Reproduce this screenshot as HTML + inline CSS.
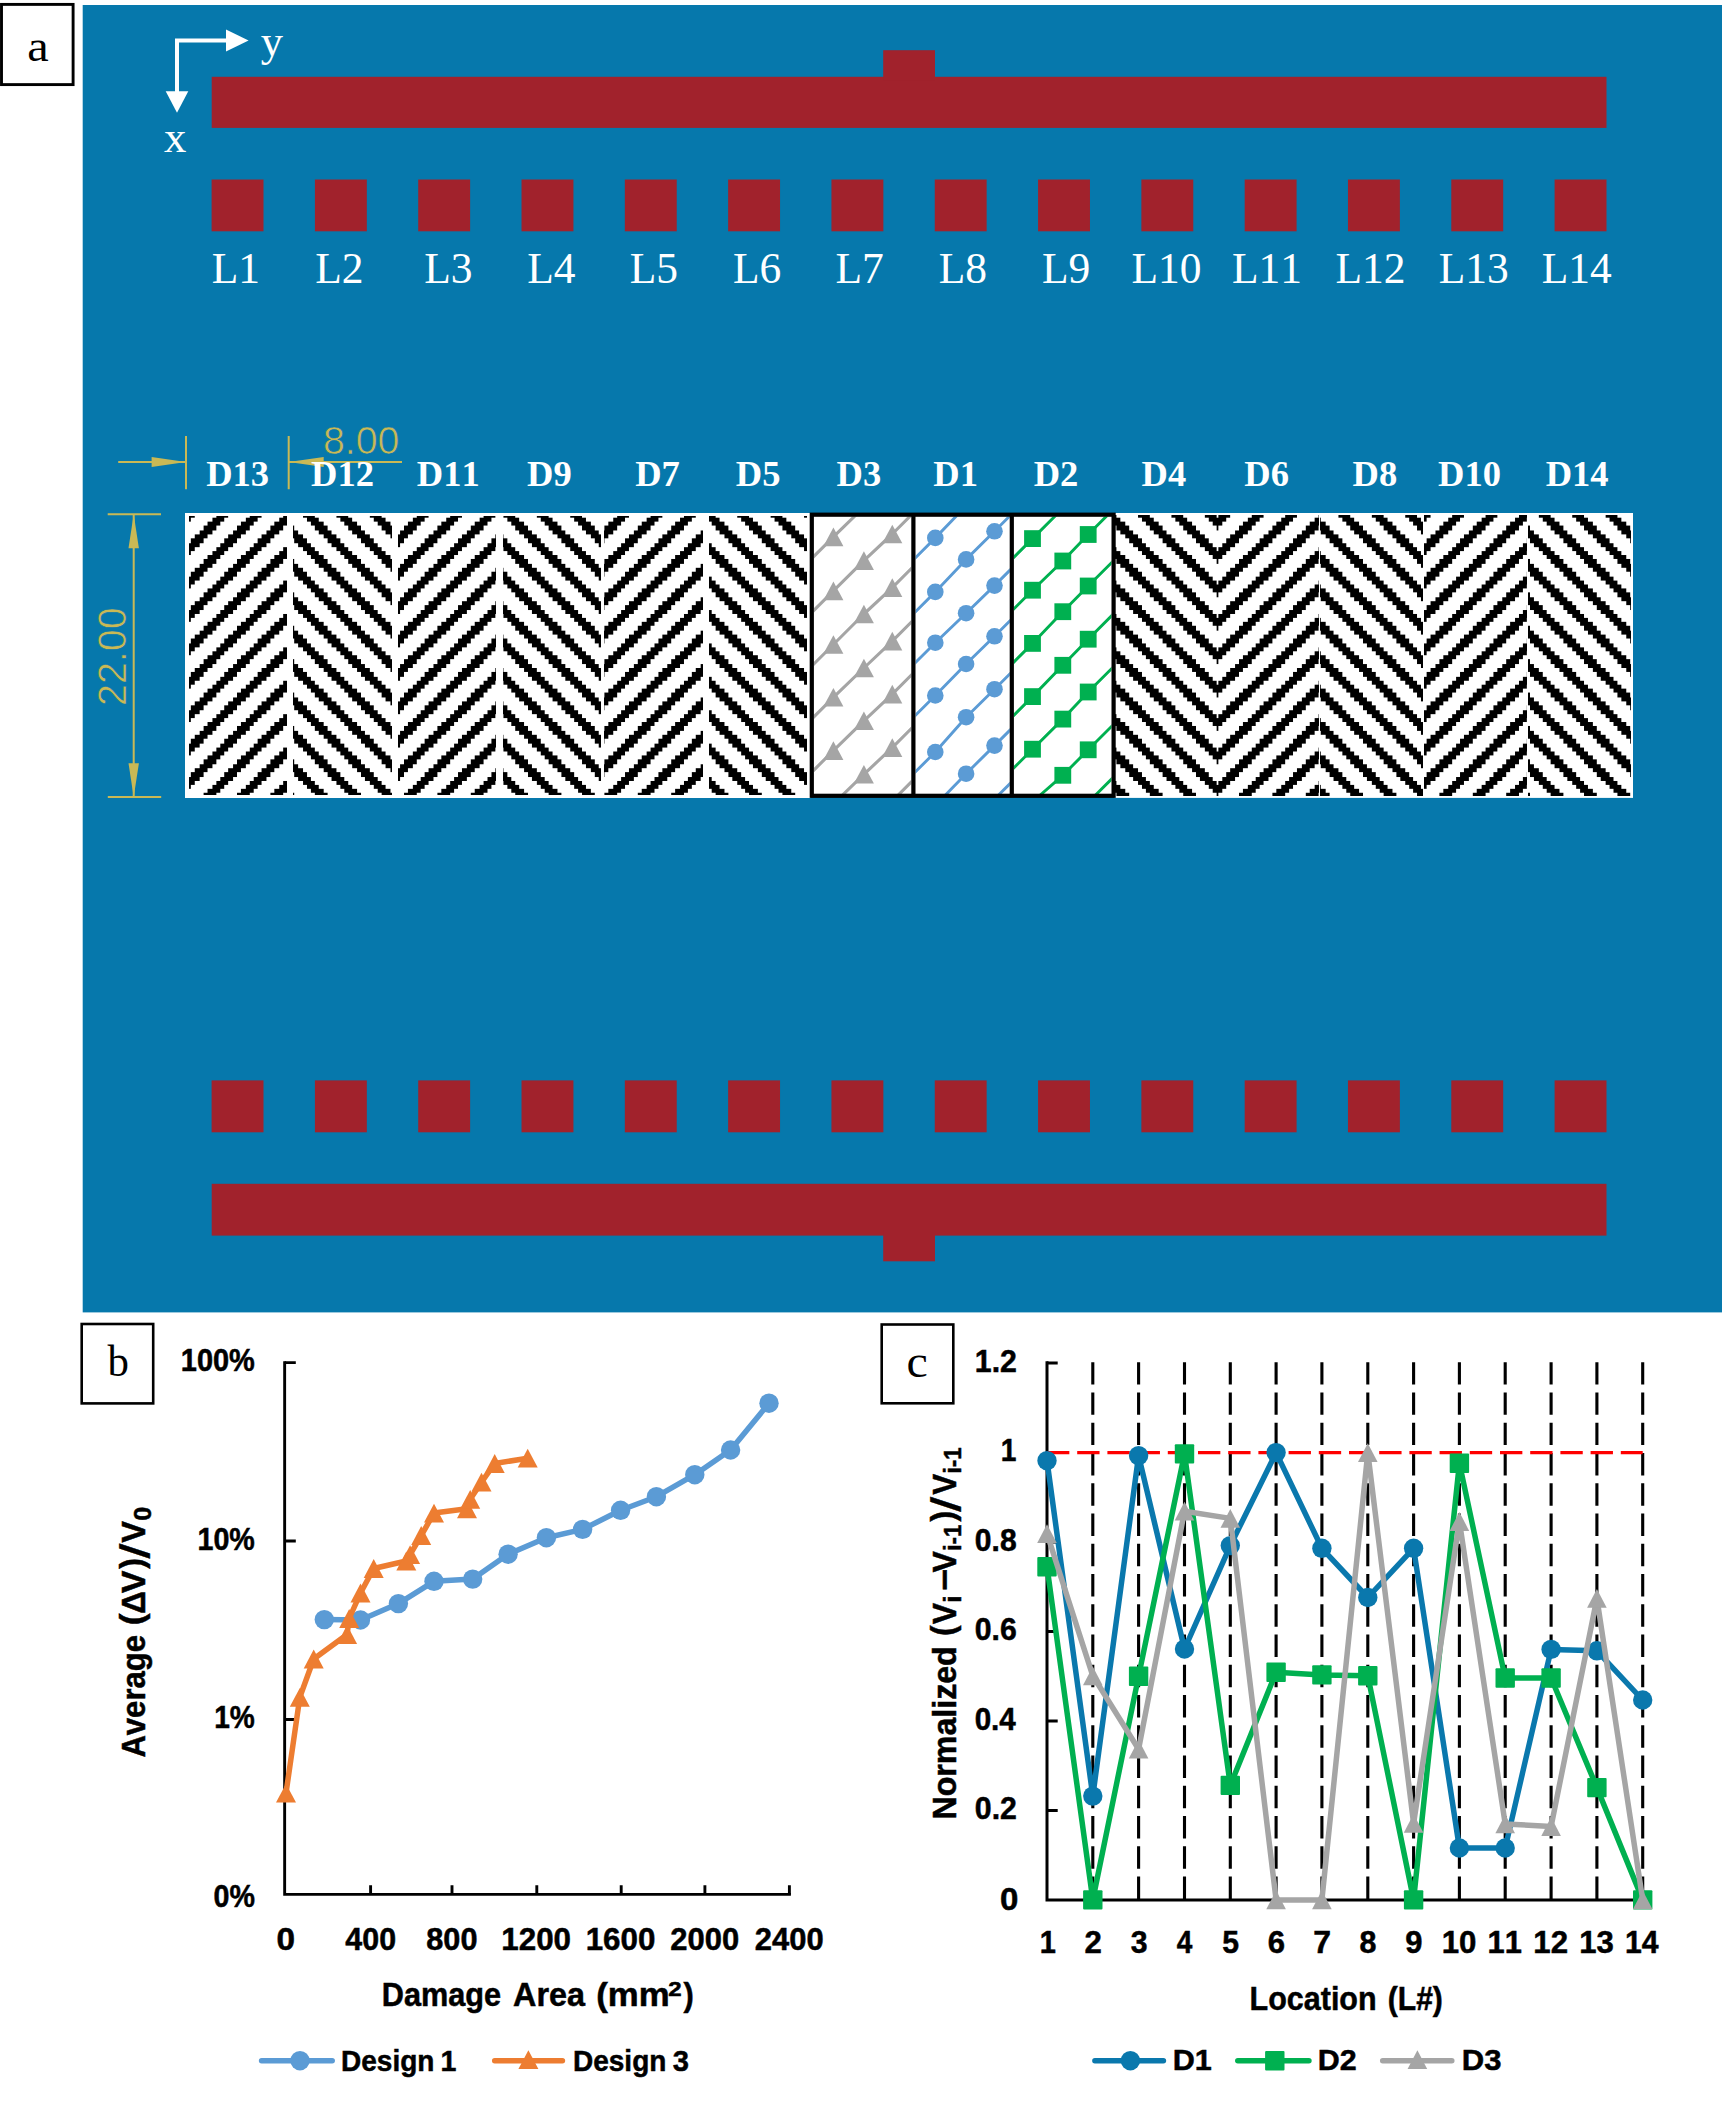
<!DOCTYPE html>
<html><head><meta charset="utf-8"><title>Figure</title>
<style>
html,body{margin:0;padding:0;background:#fff;}
svg{display:block;}
text{font-kerning:none;}
.ser{font-family:"Liberation Serif",serif;}
.san{font-family:"Liberation Sans",sans-serif;}
.b{font-weight:bold;}
.san.b{stroke:#000;stroke-width:0.5px;}
</style></head><body>
<svg width="1725" height="2113" viewBox="0 0 1725 2113">
<defs>
<pattern id="up" patternUnits="userSpaceOnUse" x="3.2" y="0" width="33.4" height="33.4">
<rect width="33.4" height="33.4" fill="#fff"/>
<path d="M0.000 0.000h4.175v4.175h-4.175zM25.050 0.000h4.175v4.175h-4.175zM29.225 0.000h4.175v4.175h-4.175zM20.875 4.175h4.175v4.175h-4.175zM25.050 4.175h4.175v4.175h-4.175zM29.225 4.175h4.175v4.175h-4.175zM16.700 8.350h4.175v4.175h-4.175zM20.875 8.350h4.175v4.175h-4.175zM25.050 8.350h4.175v4.175h-4.175zM12.525 12.525h4.175v4.175h-4.175zM16.700 12.525h4.175v4.175h-4.175zM20.875 12.525h4.175v4.175h-4.175zM8.350 16.700h4.175v4.175h-4.175zM12.525 16.700h4.175v4.175h-4.175zM16.700 16.700h4.175v4.175h-4.175zM4.175 20.875h4.175v4.175h-4.175zM8.350 20.875h4.175v4.175h-4.175zM12.525 20.875h4.175v4.175h-4.175zM0.000 25.050h4.175v4.175h-4.175zM4.175 25.050h4.175v4.175h-4.175zM8.350 25.050h4.175v4.175h-4.175zM0.000 29.225h4.175v4.175h-4.175zM4.175 29.225h4.175v4.175h-4.175zM29.225 29.225h4.175v4.175h-4.175z" fill="#000" shape-rendering="crispEdges"/>
</pattern>
<pattern id="dn" patternUnits="userSpaceOnUse" x="27" y="0" width="33.4" height="33.4">
<rect width="33.4" height="33.4" fill="#fff"/>
<path d="M0.000 0.000h4.175v4.175h-4.175zM4.175 0.000h4.175v4.175h-4.175zM29.225 0.000h4.175v4.175h-4.175zM0.000 4.175h4.175v4.175h-4.175zM4.175 4.175h4.175v4.175h-4.175zM8.350 4.175h4.175v4.175h-4.175zM4.175 8.350h4.175v4.175h-4.175zM8.350 8.350h4.175v4.175h-4.175zM12.525 8.350h4.175v4.175h-4.175zM8.350 12.525h4.175v4.175h-4.175zM12.525 12.525h4.175v4.175h-4.175zM16.700 12.525h4.175v4.175h-4.175zM12.525 16.700h4.175v4.175h-4.175zM16.700 16.700h4.175v4.175h-4.175zM20.875 16.700h4.175v4.175h-4.175zM16.700 20.875h4.175v4.175h-4.175zM20.875 20.875h4.175v4.175h-4.175zM25.050 20.875h4.175v4.175h-4.175zM20.875 25.050h4.175v4.175h-4.175zM25.050 25.050h4.175v4.175h-4.175zM29.225 25.050h4.175v4.175h-4.175zM0.000 29.225h4.175v4.175h-4.175zM25.050 29.225h4.175v4.175h-4.175zM29.225 29.225h4.175v4.175h-4.175z" fill="#000" shape-rendering="crispEdges"/>
</pattern>
<clipPath id="cD3"><rect x="814" y="516.6" width="97.2" height="277.3"/></clipPath>
<clipPath id="cD1"><rect x="915.6" y="516.6" width="94.2" height="277.3"/></clipPath>
<clipPath id="cD2"><rect x="1013.9" y="516.6" width="97.6" height="277.3"/></clipPath>
</defs>
<rect width="1725" height="2113" fill="#fff"/>
<rect x="82.7" y="5" width="1639.3" height="1307.4" fill="#0678ac"/>
<rect x="1.5" y="4.4" width="71.6" height="80.2" fill="#fff" stroke="#000" stroke-width="2.9"/>
<text class="ser" transform="translate(27.30,60.80) scale(1.0745,1)" font-size="45">a</text>
<g fill="#fff" stroke="none"><path d="M175 38.6H227V42.6H179V92H175Z"/><path d="M226 29.6L248.6 40.6L226 51.6Z"/><path d="M165.7 91.3H188.3L177 112.8Z"/></g>
<text class="ser" transform="translate(260.76,56.10) scale(0.9918,1)" font-size="44.8" fill="#fff">y</text>
<text class="ser" transform="translate(164.11,151.60) scale(0.9862,1)" font-size="45.3" fill="#fff">x</text>
<g fill="#a1222c">
<rect x="211.7" y="76.8" width="1394.8" height="51.1"/><rect x="883.2" y="50.2" width="51.8" height="30"/>
<rect x="211.7" y="1183.8" width="1394.8" height="51.8"/><rect x="883.2" y="1230" width="51.8" height="31.3"/>
<rect x="211.60" y="179.5" width="51.9" height="51.8"/><rect x="211.60" y="1080.4" width="51.9" height="51.9"/>
<rect x="314.91" y="179.5" width="51.9" height="51.8"/><rect x="314.91" y="1080.4" width="51.9" height="51.9"/>
<rect x="418.22" y="179.5" width="51.9" height="51.8"/><rect x="418.22" y="1080.4" width="51.9" height="51.9"/>
<rect x="521.52" y="179.5" width="51.9" height="51.8"/><rect x="521.52" y="1080.4" width="51.9" height="51.9"/>
<rect x="624.83" y="179.5" width="51.9" height="51.8"/><rect x="624.83" y="1080.4" width="51.9" height="51.9"/>
<rect x="728.14" y="179.5" width="51.9" height="51.8"/><rect x="728.14" y="1080.4" width="51.9" height="51.9"/>
<rect x="831.45" y="179.5" width="51.9" height="51.8"/><rect x="831.45" y="1080.4" width="51.9" height="51.9"/>
<rect x="934.75" y="179.5" width="51.9" height="51.8"/><rect x="934.75" y="1080.4" width="51.9" height="51.9"/>
<rect x="1038.06" y="179.5" width="51.9" height="51.8"/><rect x="1038.06" y="1080.4" width="51.9" height="51.9"/>
<rect x="1141.37" y="179.5" width="51.9" height="51.8"/><rect x="1141.37" y="1080.4" width="51.9" height="51.9"/>
<rect x="1244.68" y="179.5" width="51.9" height="51.8"/><rect x="1244.68" y="1080.4" width="51.9" height="51.9"/>
<rect x="1347.98" y="179.5" width="51.9" height="51.8"/><rect x="1347.98" y="1080.4" width="51.9" height="51.9"/>
<rect x="1451.29" y="179.5" width="51.9" height="51.8"/><rect x="1451.29" y="1080.4" width="51.9" height="51.9"/>
<rect x="1554.60" y="179.5" width="51.9" height="51.8"/><rect x="1554.60" y="1080.4" width="51.9" height="51.9"/>
</g>
<text class="ser" transform="translate(211.75,282.90) scale(0.9600,1)" font-size="45.3" fill="#fff">L1</text>
<text class="ser" transform="translate(315.25,282.90) scale(0.9600,1)" font-size="45.3" fill="#fff">L2</text>
<text class="ser" transform="translate(424.25,282.90) scale(0.9600,1)" font-size="45.3" fill="#fff">L3</text>
<text class="ser" transform="translate(527.15,282.90) scale(0.9600,1)" font-size="45.3" fill="#fff">L4</text>
<text class="ser" transform="translate(629.75,282.90) scale(0.9600,1)" font-size="45.3" fill="#fff">L5</text>
<text class="ser" transform="translate(732.95,282.90) scale(0.9600,1)" font-size="45.3" fill="#fff">L6</text>
<text class="ser" transform="translate(835.55,282.90) scale(0.9600,1)" font-size="45.3" fill="#fff">L7</text>
<text class="ser" transform="translate(938.75,282.90) scale(0.9600,1)" font-size="45.3" fill="#fff">L8</text>
<text class="ser" transform="translate(1041.95,282.90) scale(0.9600,1)" font-size="45.3" fill="#fff">L9</text>
<text class="ser" transform="translate(1131.50,282.90) scale(0.9600,1)" font-size="45.3" fill="#fff">L10</text>
<text class="ser" transform="translate(1232.05,282.90) scale(0.9600,1)" font-size="45.3" fill="#fff">L11</text>
<text class="ser" transform="translate(1335.55,282.90) scale(0.9600,1)" font-size="45.3" fill="#fff">L12</text>
<text class="ser" transform="translate(1438.75,282.90) scale(0.9600,1)" font-size="45.3" fill="#fff">L13</text>
<text class="ser" transform="translate(1541.75,282.90) scale(0.9600,1)" font-size="45.3" fill="#fff">L14</text>
<g stroke="#c9b955" stroke-width="2" fill="none">
<path d="M186 435.9V489.3M288.7 435.9V489.3M118.2 462H186M288.7 462H402"/>
<path d="M107.7 514.2H161M107.8 797H161.2M133.7 514.2V797"/>
</g>
<g fill="#c9b955"><path d="M186 462L151.6 457V467Z"/><path d="M288.7 462L323.7 457V467Z"/><path d="M133.7 514.2L128.5 548.2H138.9Z"/><path d="M133.7 797L128.5 763.3H138.9Z"/></g>
<text class="san" transform="translate(322.89,453.90) scale(1.0047,1)" font-size="39.2" fill="#c9b955" stroke="#0678ac" stroke-width="0.7">8.00</text>
<text class="san" transform="translate(126.20,0) rotate(-90) translate(-705.98,0) scale(0.9602,1)" font-size="41" fill="#c9b955" stroke="#0678ac" stroke-width="0.7">22.00</text>
<text class="ser b" transform="translate(206.16,485.80) scale(0.9930,1)" font-size="36.8" fill="#fff">D13</text>
<text class="ser b" transform="translate(311.06,485.80) scale(0.9930,1)" font-size="36.8" fill="#fff">D12</text>
<text class="ser b" transform="translate(416.86,485.80) scale(0.9930,1)" font-size="36.8" fill="#fff">D11</text>
<text class="ser b" transform="translate(527.06,485.80) scale(0.9930,1)" font-size="36.8" fill="#fff">D9</text>
<text class="ser b" transform="translate(635.16,485.80) scale(0.9930,1)" font-size="36.8" fill="#fff">D7</text>
<text class="ser b" transform="translate(735.76,485.80) scale(0.9930,1)" font-size="36.8" fill="#fff">D5</text>
<text class="ser b" transform="translate(836.56,485.80) scale(0.9930,1)" font-size="36.8" fill="#fff">D3</text>
<text class="ser b" transform="translate(933.36,485.80) scale(0.9930,1)" font-size="36.8" fill="#fff">D1</text>
<text class="ser b" transform="translate(1033.66,485.80) scale(0.9930,1)" font-size="36.8" fill="#fff">D2</text>
<text class="ser b" transform="translate(1141.56,485.80) scale(0.9930,1)" font-size="36.8" fill="#fff">D4</text>
<text class="ser b" transform="translate(1244.36,485.80) scale(0.9930,1)" font-size="36.8" fill="#fff">D6</text>
<text class="ser b" transform="translate(1352.56,485.80) scale(0.9930,1)" font-size="36.8" fill="#fff">D8</text>
<text class="ser b" transform="translate(1438.06,485.80) scale(0.9930,1)" font-size="36.8" fill="#fff">D10</text>
<text class="ser b" transform="translate(1545.66,485.80) scale(0.9930,1)" font-size="36.8" fill="#fff">D14</text>
<rect x="185" y="513" width="626" height="285" fill="#fff"/>
<rect x="1114" y="513" width="519" height="284.9" fill="#fff"/>
<rect x="188.9" y="516.2" width="98.2" height="278.4" fill="url(#up)" shape-rendering="crispEdges"/>
<rect x="293.3" y="516.2" width="98.4" height="278.4" fill="url(#dn)" shape-rendering="crispEdges"/>
<rect x="398.1" y="516.2" width="98.1" height="278.4" fill="url(#up)" shape-rendering="crispEdges"/>
<rect x="502.7" y="516.2" width="98.1" height="278.4" fill="url(#dn)" shape-rendering="crispEdges"/>
<rect x="603.9" y="516.2" width="99.0" height="278.4" fill="url(#up)" shape-rendering="crispEdges"/>
<rect x="709.3" y="516.2" width="97.9" height="278.4" fill="url(#dn)" shape-rendering="crispEdges"/>
<rect x="1114.3" y="514.5" width="102.3" height="281.7" fill="url(#dn)" shape-rendering="crispEdges"/>
<rect x="1217.2" y="514.5" width="102.2" height="281.7" fill="url(#up)" shape-rendering="crispEdges"/>
<rect x="1320" y="514.5" width="102.9" height="281.7" fill="url(#dn)" shape-rendering="crispEdges"/>
<rect x="1423.5" y="514.5" width="103.2" height="281.7" fill="url(#up)" shape-rendering="crispEdges"/>
<rect x="1528" y="514.5" width="103.0" height="281.7" fill="url(#dn)" shape-rendering="crispEdges"/>
<rect x="811.8" y="514.7" width="301.8" height="281.1" fill="#fff"/>
<g clip-path="url(#cD3)">
<g stroke="#a5a5a5" stroke-width="3.1" fill="none" stroke-linejoin="round">
<path d="M788.4 581.9L833.4 536.9L863.9 507.2L892.3 480.6L937.3 435.6"/>
<path d="M788.4 635.9L833.4 590.9L863.9 560.6L892.3 534.0L937.3 489.0"/>
<path d="M788.4 689.5L833.4 644.5L863.9 614.0L892.3 587.6L937.3 542.6"/>
<path d="M788.4 742.3L833.4 697.3L863.9 668.0L892.3 641.1L937.3 596.1"/>
<path d="M788.4 795.6L833.4 750.6L863.9 720.8L892.3 694.1L937.3 649.1"/>
<path d="M788.4 849.0L833.4 804.0L863.9 774.3L892.3 747.6L937.3 702.6"/>
<path d="M788.4 902.5L833.4 857.5L863.9 827.7L892.3 801.0L937.3 756.0"/>
</g>
<g fill="#a5a5a5">
<path d="M833.4 527.6L843.4 546.2H823.4Z"/>
<path d="M833.4 581.6L843.4 600.2H823.4Z"/>
<path d="M833.4 635.2L843.4 653.8H823.4Z"/>
<path d="M833.4 688.0L843.4 706.6H823.4Z"/>
<path d="M833.4 741.3L843.4 759.9H823.4Z"/>
<path d="M863.9 551.3L873.9 569.9H853.9Z"/>
<path d="M863.9 604.7L873.9 623.3H853.9Z"/>
<path d="M863.9 658.7L873.9 677.3H853.9Z"/>
<path d="M863.9 711.5L873.9 730.1H853.9Z"/>
<path d="M863.9 765.0L873.9 783.6H853.9Z"/>
<path d="M892.3 524.7L902.3 543.3H882.3Z"/>
<path d="M892.3 578.3L902.3 596.9H882.3Z"/>
<path d="M892.3 631.8L902.3 650.4H882.3Z"/>
<path d="M892.3 684.8L902.3 703.4H882.3Z"/>
<path d="M892.3 738.3L902.3 756.9H882.3Z"/>
</g></g>
<g clip-path="url(#cD1)">
<g stroke="#5b9bd5" stroke-width="2.9" fill="none" stroke-linejoin="round">
<path d="M890.3 582.9L935.3 537.9L966.1 505.9L994.5 477.8L1039.5 432.8"/>
<path d="M890.3 636.9L935.3 591.9L966.1 559.4L994.5 531.3L1039.5 486.3"/>
<path d="M890.3 687.7L935.3 642.7L966.1 613.2L994.5 585.6L1039.5 540.6"/>
<path d="M890.3 740.5L935.3 695.5L966.1 664.0L994.5 636.3L1039.5 591.3"/>
<path d="M890.3 797.0L935.3 752.0L966.1 717.2L994.5 689.2L1039.5 644.2"/>
<path d="M890.3 850.5L935.3 805.5L966.1 773.7L994.5 745.6L1039.5 700.6"/>
<path d="M890.3 904.0L935.3 859.0L966.1 827.2L994.5 799.1L1039.5 754.1"/>
</g>
<g fill="#5b9bd5">
<circle cx="935.3" cy="537.9" r="8.3"/>
<circle cx="935.3" cy="591.9" r="8.3"/>
<circle cx="935.3" cy="642.7" r="8.3"/>
<circle cx="935.3" cy="695.5" r="8.3"/>
<circle cx="935.3" cy="752.0" r="8.3"/>
<circle cx="966.1" cy="559.4" r="8.3"/>
<circle cx="966.1" cy="613.2" r="8.3"/>
<circle cx="966.1" cy="664.0" r="8.3"/>
<circle cx="966.1" cy="717.2" r="8.3"/>
<circle cx="966.1" cy="773.7" r="8.3"/>
<circle cx="994.5" cy="531.3" r="8.3"/>
<circle cx="994.5" cy="585.6" r="8.3"/>
<circle cx="994.5" cy="636.3" r="8.3"/>
<circle cx="994.5" cy="689.2" r="8.3"/>
<circle cx="994.5" cy="745.6" r="8.3"/>
</g></g>
<g clip-path="url(#cD2)">
<g stroke="#00b050" stroke-width="2.9" fill="none" stroke-linejoin="round">
<path d="M987.5 583.6L1032.5 538.6L1062.8 508.4L1088.2 481.9L1133.2 436.9"/>
<path d="M987.5 635.2L1032.5 590.2L1062.8 561.0L1088.2 534.5L1133.2 489.5"/>
<path d="M987.5 688.4L1032.5 643.4L1062.8 611.7L1088.2 586.0L1133.2 541.0"/>
<path d="M987.5 741.6L1032.5 696.6L1062.8 665.3L1088.2 639.2L1133.2 594.2"/>
<path d="M987.5 794.2L1032.5 749.2L1062.8 719.1L1088.2 692.0L1133.2 647.0"/>
<path d="M987.5 846.9L1032.5 801.9L1062.8 775.3L1088.2 749.8L1133.2 704.8"/>
<path d="M987.5 899.5L1032.5 854.5L1062.8 827.9L1088.2 802.4L1133.2 757.4"/>
</g>
<g fill="#00b050">
<rect x="1024.1" y="530.2" width="16.8" height="16.8"/>
<rect x="1024.1" y="581.8" width="16.8" height="16.8"/>
<rect x="1024.1" y="635.0" width="16.8" height="16.8"/>
<rect x="1024.1" y="688.2" width="16.8" height="16.8"/>
<rect x="1024.1" y="740.8" width="16.8" height="16.8"/>
<rect x="1054.4" y="552.6" width="16.8" height="16.8"/>
<rect x="1054.4" y="603.3" width="16.8" height="16.8"/>
<rect x="1054.4" y="656.9" width="16.8" height="16.8"/>
<rect x="1054.4" y="710.7" width="16.8" height="16.8"/>
<rect x="1054.4" y="766.9" width="16.8" height="16.8"/>
<rect x="1079.8" y="526.1" width="16.8" height="16.8"/>
<rect x="1079.8" y="577.6" width="16.8" height="16.8"/>
<rect x="1079.8" y="630.8" width="16.8" height="16.8"/>
<rect x="1079.8" y="683.6" width="16.8" height="16.8"/>
<rect x="1079.8" y="741.4" width="16.8" height="16.8"/>
</g></g>
<g fill="none" stroke="#000" stroke-width="4.2"><rect x="811.8" y="514.7" width="301.8" height="281.1"/><path d="M913.4 514.7V795.8M1011.8 514.7V795.8"/></g>
<rect x="81.7" y="1324" width="71.5" height="79.4" fill="#fff" stroke="#000" stroke-width="2.6"/>
<text class="ser" transform="translate(107.50,1376.40) scale(0.9526,1)" font-size="45">b</text>
<g stroke="#000" stroke-width="2.9" fill="none">
<path d="M284.65 1361.2V1895.85M283.2 1894.4H790.9"/>
<path d="M284.65 1362.6H295.8M284.65 1541H295.8M284.65 1719.5H295.8"/>
<path d="M370.6 1885.2V1894.4M452.0 1885.2V1894.4M536.8 1885.2V1894.4M621.2 1885.2V1894.4M704.9 1885.2V1894.4M789.4 1885.2V1894.4"/>
</g>
<polyline fill="none" stroke="#5b9bd5" stroke-width="5.5" stroke-linejoin="round" stroke-linecap="round" points="324.3,1619.6 360.5,1620.0 398.4,1603.6 434.0,1581.3 472.7,1579.1 508.1,1554.2 546.4,1537.7 582.6,1529.4 620.6,1510.3 656.4,1496.7 694.8,1474.7 730.6,1450.0 769.0,1403.2"/>
<g fill="#5b9bd5"><circle cx="324.3" cy="1619.6" r="9.7"/><circle cx="360.5" cy="1620.0" r="9.7"/><circle cx="398.4" cy="1603.6" r="9.7"/><circle cx="434.0" cy="1581.3" r="9.7"/><circle cx="472.7" cy="1579.1" r="9.7"/><circle cx="508.1" cy="1554.2" r="9.7"/><circle cx="546.4" cy="1537.7" r="9.7"/><circle cx="582.6" cy="1529.4" r="9.7"/><circle cx="620.6" cy="1510.3" r="9.7"/><circle cx="656.4" cy="1496.7" r="9.7"/><circle cx="694.8" cy="1474.7" r="9.7"/><circle cx="730.6" cy="1450.0" r="9.7"/><circle cx="769.0" cy="1403.2" r="9.7"/></g>
<polyline fill="none" stroke="#ed7d31" stroke-width="5.5" stroke-linejoin="round" stroke-linecap="round" points="286.0,1793.2 299.8,1697.3 313.7,1659.0 347.1,1634.5 349.2,1618.5 360.5,1593.0 373.7,1568.5 406.3,1561.0 410.1,1554.6 421.2,1535.5 434.0,1513.1 467.0,1508.8 470.2,1499.3 481.5,1482.2 494.7,1463.5 527.7,1458.2"/>
<g fill="#ed7d31"><path d="M286.0 1783.8L296.0 1802.6H276.0Z"/><path d="M299.8 1687.9L309.8 1706.7H289.8Z"/><path d="M313.7 1649.6L323.7 1668.4H303.7Z"/><path d="M347.1 1625.1L357.1 1643.9H337.1Z"/><path d="M349.2 1609.1L359.2 1627.9H339.2Z"/><path d="M360.5 1583.6L370.5 1602.4H350.5Z"/><path d="M373.7 1559.1L383.7 1577.9H363.7Z"/><path d="M406.3 1551.6L416.3 1570.4H396.3Z"/><path d="M410.1 1545.2L420.1 1564.0H400.1Z"/><path d="M421.2 1526.1L431.2 1544.9H411.2Z"/><path d="M434.0 1503.7L444.0 1522.5H424.0Z"/><path d="M467.0 1499.4L477.0 1518.2H457.0Z"/><path d="M470.2 1489.9L480.2 1508.7H460.2Z"/><path d="M481.5 1472.8L491.5 1491.6H471.5Z"/><path d="M494.7 1454.1L504.7 1472.9H484.7Z"/><path d="M527.7 1448.8L537.7 1467.6H517.7Z"/></g>
<polyline fill="none" stroke="#5b9bd5" stroke-width="5.5" stroke-linejoin="round" stroke-linecap="round" points="261.6,2060.7 332.2,2060.7"/>
<circle cx="300" cy="2060.7" r="9.7" fill="#5b9bd5"/>
<polyline fill="none" stroke="#ed7d31" stroke-width="5.5" stroke-linejoin="round" stroke-linecap="round" points="494.7,2060.7 562.4,2060.7"/>
<g fill="#ed7d31"><path d="M528.4 2050.2L538.4 2069.0H518.4Z"/></g>
<text class="san b" transform="translate(341.02,2070.50) scale(0.9227,1)" font-size="30.4">Design</text>
<text class="san b" transform="translate(440.60,2070.50) scale(0.9402,1)" font-size="30.4">1</text>
<text class="san b" transform="translate(572.92,2070.50) scale(0.9227,1)" font-size="30.4">Design</text>
<text class="san b" transform="translate(672.63,2070.50) scale(0.9596,1)" font-size="30.4">3</text>
<text class="san b" transform="translate(381.75,2006.10) scale(0.9216,1)" font-size="33.3">Damage</text>
<text class="san b" transform="translate(513.09,2006.10) scale(0.9710,1)" font-size="33.3">Area</text>
<text class="san b" transform="translate(596.27,2006.10) scale(1.0438,1)" font-size="33.3">(mm</text>
<text class="san b" transform="translate(668.16,1996.20) scale(1.1584,1)" font-size="20.8">2</text>
<text class="san b" transform="translate(683.47,2006.10) scale(0.9257,1)" font-size="33.3">)</text>
<text class="san b" transform="translate(180.78,1371.40) scale(0.9344,1)" font-size="31.0">100%</text>
<text class="san b" transform="translate(197.49,1550.10) scale(0.9245,1)" font-size="31.0">10%</text>
<text class="san b" transform="translate(214.23,1728.40) scale(0.9064,1)" font-size="31.0">1%</text>
<text class="san b" transform="translate(213.47,1906.50) scale(0.9237,1)" font-size="31.0">0%</text>
<text class="san b" transform="translate(276.58,1949.50) scale(1.0751,1)" font-size="31.0">0</text>
<text class="san b" transform="translate(345.34,1949.50) scale(0.9804,1)" font-size="31.0">400</text>
<text class="san b" transform="translate(426.23,1949.50) scale(0.9906,1)" font-size="31.0">800</text>
<text class="san b" transform="translate(501.27,1949.50) scale(1.0116,1)" font-size="31.0">1200</text>
<text class="san b" transform="translate(585.67,1949.50) scale(1.0116,1)" font-size="31.0">1600</text>
<text class="san b" transform="translate(670.28,1949.50) scale(0.9982,1)" font-size="31.0">2000</text>
<text class="san b" transform="translate(754.78,1949.50) scale(0.9982,1)" font-size="31.0">2400</text>
<text class="san b" transform="translate(144.60,0) rotate(-90) translate(-1757.57,0) scale(0.9158,1)" font-size="33.9">Average</text>
<text class="san b" transform="translate(143.10,0) rotate(-90) translate(-1625.36,0) scale(1.0452,1)" font-size="33.9">(</text>
<text class="san b" transform="translate(144.60,0) rotate(-90) translate(-1613.87,0) scale(0.9259,1)" font-size="33.9">Δ</text>
<text class="san b" transform="translate(144.60,0) rotate(-90) translate(-1593.03,0) scale(0.9933,1)" font-size="33.9">V</text>
<text class="san b" transform="translate(143.10,0) rotate(-90) translate(-1568.73,0) scale(0.9407,1)" font-size="33.9">)</text>
<text class="san b" transform="translate(149.10,0) rotate(-90) translate(-1558.78,0) skewX(-7.8)" font-size="41">/</text>
<text class="san b" transform="translate(144.60,0) rotate(-90) translate(-1542.72,0) scale(0.9617,1)" font-size="33.9">V</text>
<text class="san b" transform="translate(150.50,0) rotate(-90) translate(-1520.70,0) scale(1.0341,1)" font-size="24.4">0</text>
<rect x="881.7" y="1324.5" width="71.6" height="78.8" fill="#fff" stroke="#000" stroke-width="2.6"/>
<text class="ser" transform="translate(906.47,1376.80) scale(1.0549,1)" font-size="45.5">c</text>
<g stroke="#000" stroke-width="3.1" fill="none" stroke-dasharray="22.4 7.86">
<path d="M1092.8 1362.2V1899.9"/>
<path d="M1138.6 1362.2V1899.9"/>
<path d="M1184.5 1362.2V1899.9"/>
<path d="M1230.3 1362.2V1899.9"/>
<path d="M1276.1 1362.2V1899.9"/>
<path d="M1321.9 1362.2V1899.9"/>
<path d="M1367.8 1362.2V1899.9"/>
<path d="M1413.6 1362.2V1899.9"/>
<path d="M1459.4 1362.2V1899.9"/>
<path d="M1505.2 1362.2V1899.9"/>
<path d="M1551.1 1362.2V1899.9"/>
<path d="M1596.9 1362.2V1899.9"/>
<path d="M1642.7 1362.2V1899.9"/>
</g>
<g stroke="#000" stroke-width="3" fill="none">
<path d="M1047.0 1361.2V1901.4M1045.5 1899.9H1643.2"/>
<path d="M1047.0 1810.4H1057.7M1047.0 1721.0H1057.7M1047.0 1631.5H1057.7M1047.0 1542.1H1057.7M1047.0 1452.6H1057.7M1047.0 1363.1H1057.7"/>
</g>
<path d="M1047.0 1452.6H1642.7" stroke="#ff0000" stroke-width="3.1" stroke-dasharray="22.35 7.85" fill="none"/>
<polyline fill="none" stroke="#0a78ad" stroke-width="5.5" stroke-linejoin="round" stroke-linecap="round" points="1047.0,1460.7 1092.8,1796.1 1138.6,1455.7 1184.5,1649.0 1230.3,1545.6 1276.1,1452.6 1321.9,1548.3 1367.8,1597.5 1413.6,1548.3 1459.4,1848.0 1505.2,1848.0 1551.1,1649.4 1596.9,1650.8 1642.7,1700.0"/>
<g fill="#0a78ad"><circle cx="1047.0" cy="1460.7" r="9.7"/><circle cx="1092.8" cy="1796.1" r="9.7"/><circle cx="1138.6" cy="1455.7" r="9.7"/><circle cx="1184.5" cy="1649.0" r="9.7"/><circle cx="1230.3" cy="1545.6" r="9.7"/><circle cx="1276.1" cy="1452.6" r="9.7"/><circle cx="1321.9" cy="1548.3" r="9.7"/><circle cx="1367.8" cy="1597.5" r="9.7"/><circle cx="1413.6" cy="1548.3" r="9.7"/><circle cx="1459.4" cy="1848.0" r="9.7"/><circle cx="1505.2" cy="1848.0" r="9.7"/><circle cx="1551.1" cy="1649.4" r="9.7"/><circle cx="1596.9" cy="1650.8" r="9.7"/><circle cx="1642.7" cy="1700.0" r="9.7"/></g>
<polyline fill="none" stroke="#00b050" stroke-width="5.5" stroke-linejoin="round" stroke-linecap="round" points="1047.0,1566.7 1092.8,1899.9 1138.6,1676.2 1184.5,1453.9 1230.3,1785.4 1276.1,1672.2 1321.9,1674.9 1367.8,1675.8 1413.6,1899.9 1459.4,1463.3 1505.2,1678.0 1551.1,1678.0 1596.9,1787.6 1642.7,1899.9"/>
<g fill="#00b050"><rect x="1037.3" y="1557.0" width="19.4" height="19.4" rx="1"/><rect x="1083.1" y="1890.2" width="19.4" height="19.4" rx="1"/><rect x="1128.9" y="1666.5" width="19.4" height="19.4" rx="1"/><rect x="1174.8" y="1444.2" width="19.4" height="19.4" rx="1"/><rect x="1220.6" y="1775.7" width="19.4" height="19.4" rx="1"/><rect x="1266.4" y="1662.5" width="19.4" height="19.4" rx="1"/><rect x="1312.2" y="1665.2" width="19.4" height="19.4" rx="1"/><rect x="1358.1" y="1666.1" width="19.4" height="19.4" rx="1"/><rect x="1403.9" y="1890.2" width="19.4" height="19.4" rx="1"/><rect x="1449.7" y="1453.6" width="19.4" height="19.4" rx="1"/><rect x="1495.5" y="1668.3" width="19.4" height="19.4" rx="1"/><rect x="1541.4" y="1668.3" width="19.4" height="19.4" rx="1"/><rect x="1587.2" y="1777.9" width="19.4" height="19.4" rx="1"/><rect x="1633.0" y="1890.2" width="19.4" height="19.4" rx="1"/></g>
<polyline fill="none" stroke="#a5a5a5" stroke-width="5.5" stroke-linejoin="round" stroke-linecap="round" points="1047.0,1533.6 1092.8,1675.8 1138.6,1749.2 1184.5,1511.2 1230.3,1518.4 1276.1,1899.9 1321.9,1899.9 1367.8,1452.6 1413.6,1823.4 1459.4,1521.5 1505.2,1823.9 1551.1,1826.5 1596.9,1598.4 1642.7,1899.9"/>
<g fill="#a5a5a5"><path d="M1047.0 1524.2L1056.8 1543.0H1037.2Z"/><path d="M1092.8 1666.4L1102.6 1685.2H1083.0Z"/><path d="M1138.6 1739.8L1148.4 1758.6H1128.8Z"/><path d="M1184.5 1501.8L1194.3 1520.6H1174.7Z"/><path d="M1230.3 1509.0L1240.1 1527.8H1220.5Z"/><path d="M1276.1 1890.5L1285.9 1909.3H1266.3Z"/><path d="M1321.9 1890.5L1331.7 1909.3H1312.1Z"/><path d="M1367.8 1443.2L1377.6 1462.0H1358.0Z"/><path d="M1413.6 1814.0L1423.4 1832.8H1403.8Z"/><path d="M1459.4 1512.1L1469.2 1530.9H1449.6Z"/><path d="M1505.2 1814.5L1515.0 1833.3H1495.4Z"/><path d="M1551.1 1817.1L1560.9 1835.9H1541.3Z"/><path d="M1596.9 1589.0L1606.7 1607.8H1587.1Z"/><path d="M1642.7 1890.5L1652.5 1909.3H1632.9Z"/></g>
<polyline fill="none" stroke="#0a78ad" stroke-width="5.5" stroke-linejoin="round" stroke-linecap="round" points="1094.9,2060.7 1163.4,2060.7"/>
<circle cx="1130.4" cy="2060.7" r="9.7" fill="#0a78ad"/>
<polyline fill="none" stroke="#00b050" stroke-width="5.5" stroke-linejoin="round" stroke-linecap="round" points="1237.8,2060.7 1308.9,2060.7"/>
<rect x="1265.1" y="2051" width="19.4" height="19.4" rx="1" fill="#00b050"/>
<polyline fill="none" stroke="#a5a5a5" stroke-width="5.5" stroke-linejoin="round" stroke-linecap="round" points="1382.7,2060.7 1451.8,2060.7"/>
<g fill="#a5a5a5"><path d="M1417.4 2050.3L1427.2 2069.1H1407.6Z"/></g>
<text class="san b" transform="translate(1172.75,2070.40) scale(1.0061,1)" font-size="30.4">D1</text>
<text class="san b" transform="translate(1317.66,2070.40) scale(1.0025,1)" font-size="30.4">D2</text>
<text class="san b" transform="translate(1461.72,2070.40) scale(1.0216,1)" font-size="30.4">D3</text>
<text class="san b" transform="translate(1249.56,2009.50) scale(0.9163,1)" font-size="33.3">Location</text>
<text class="san b" transform="translate(1387.80,2009.50) scale(0.9026,1)" font-size="33.3">(L#)</text>
<text class="san b" transform="translate(974.79,1371.74) scale(0.9774,1)" font-size="31.0">1.2</text>
<text class="san b" transform="translate(1000.83,1461.20) scale(0.9081,1)" font-size="31.0">1</text>
<text class="san b" transform="translate(974.81,1550.66) scale(0.9703,1)" font-size="31.0">0.8</text>
<text class="san b" transform="translate(974.81,1640.12) scale(0.9743,1)" font-size="31.0">0.6</text>
<text class="san b" transform="translate(974.63,1729.58) scale(0.9568,1)" font-size="31.0">0.4</text>
<text class="san b" transform="translate(974.80,1819.04) scale(0.9772,1)" font-size="31.0">0.2</text>
<text class="san b" transform="translate(999.99,1910.10) scale(1.0649,1)" font-size="31.0">0</text>
<text class="san b" transform="translate(1039.87,1953.00) scale(0.9359,1)" font-size="31.0">1</text>
<text class="san b" transform="translate(1084.54,1953.00) scale(1.0050,1)" font-size="31.0">2</text>
<text class="san b" transform="translate(1130.75,1953.00) scale(0.9734,1)" font-size="31.0">3</text>
<text class="san b" transform="translate(1176.85,1953.00) scale(0.9033,1)" font-size="31.0">4</text>
<text class="san b" transform="translate(1222.16,1953.00) scale(0.9725,1)" font-size="31.0">5</text>
<text class="san b" transform="translate(1267.78,1953.00) scale(1.0010,1)" font-size="31.0">6</text>
<text class="san b" transform="translate(1313.36,1953.00) scale(1.0312,1)" font-size="31.0">7</text>
<text class="san b" transform="translate(1359.60,1953.00) scale(0.9802,1)" font-size="31.0">8</text>
<text class="san b" transform="translate(1405.31,1953.00) scale(0.9990,1)" font-size="31.0">9</text>
<text class="san b" transform="translate(1441.69,1953.00) scale(1.0078,1)" font-size="31.0">10</text>
<text class="san b" transform="translate(1487.54,1953.00) scale(0.9948,1)" font-size="31.0">11</text>
<text class="san b" transform="translate(1533.34,1953.00) scale(1.0068,1)" font-size="31.0">12</text>
<text class="san b" transform="translate(1579.17,1953.00) scale(1.0029,1)" font-size="31.0">13</text>
<text class="san b" transform="translate(1625.05,1953.00) scale(0.9734,1)" font-size="31.0">14</text>
<text class="san b" transform="translate(955.50,0) rotate(-90) translate(-1819.55,0) scale(0.9488,1)" font-size="33.9">Normalized</text>
<text class="san b" transform="translate(954.00,0) rotate(-90) translate(-1635.89,0) scale(0.9407,1)" font-size="33.9">(</text>
<text class="san b" transform="translate(955.50,0) rotate(-90) translate(-1624.22,0) scale(0.9437,1)" font-size="33.9">V</text>
<text class="san b" transform="translate(961.10,0) rotate(-90) translate(-1602.83,0) scale(1.1024,1)" font-size="23.8">i</text>
<text class="san b" transform="translate(955.50,0) rotate(-90) translate(-1590.46,0) scale(1.1059,1)" font-size="33.9">−</text>
<text class="san b" transform="translate(955.50,0) rotate(-90) translate(-1572.42,0) scale(0.9437,1)" font-size="33.9">V</text>
<text class="san b" transform="translate(961.10,0) rotate(-90) translate(-1550.77,0) scale(0.9430,1)" font-size="23.8">i-1</text>
<text class="san b" transform="translate(954.00,0) rotate(-90) translate(-1521.53,0) scale(0.9407,1)" font-size="33.9">)</text>
<text class="san b" transform="translate(960.00,0) rotate(-90) translate(-1511.98,0) skewX(-7.8)" font-size="41">/</text>
<text class="san b" transform="translate(955.50,0) rotate(-90) translate(-1494.81,0) scale(0.9256,1)" font-size="33.9">V</text>
<text class="san b" transform="translate(961.10,0) rotate(-90) translate(-1473.57,0) scale(0.9430,1)" font-size="23.8">i-1</text>
</svg></body></html>
